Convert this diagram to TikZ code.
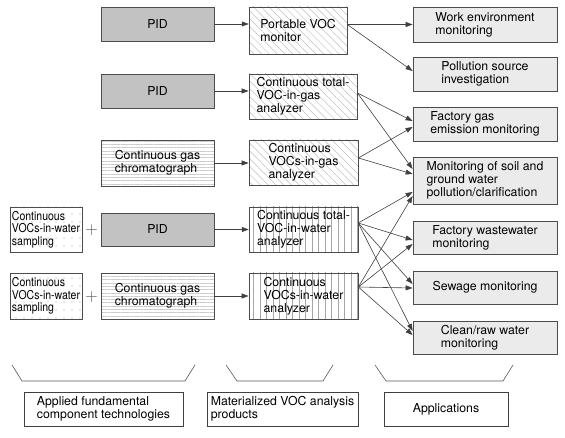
\documentclass[tikz,border=0pt]{standalone}
\usepackage{fontspec}
\setmainfont{TeX Gyre Heros}
\newfontfamily\condfont[FakeStretch=0.86]{TeX Gyre Heros}
\usetikzlibrary{arrows.meta,patterns.meta}
\begin{document}
\begin{tikzpicture}[x=1bp,y=-1bp,
  font=\fontsize{12.3bp}{13bp}\selectfont,
  box/.style={draw=black!70, line width=0.8bp, inner sep=0pt, align=left},
  pidbox/.style={box, fill=black!24},
  appbox/.style={box, fill=black!8},
  cgcbox/.style={box, pattern={Lines[angle=0,distance=3.3bp,line width=0.4bp]}, pattern color=black!20},
  gasbox/.style={box, pattern={Lines[angle=-45,distance=5.5bp,line width=0.5bp]}, pattern color=black!25},
  watbox/.style={box, pattern={Lines[angle=90,distance=6.5bp,line width=0.5bp]}, pattern color=black!35},
  sampbox/.style={box, pattern={Dots[distance=8bp,radius=0.6bp]}, pattern color=black!35, font=\condfont\fontsize{12.2bp}{12.5bp}\selectfont},
  labbox/.style={box, draw=black!75, fill=white},
  conn/.style={draw=black!75, line width=0.6bp, -{Triangle[length=7bp,width=5bp]}},
  bracket/.style={draw=black!65, line width=0.6bp},
  plussign/.style={inner sep=0pt, font=\fontsize{17bp}{17bp}\selectfont, text=black!70}
]
\useasboundingbox (0,0) rectangle (565,438);

% left column
\node[pidbox, minimum width=113bp, minimum height=34bp] (pid1) at (157.5,24) {PID};
\node[pidbox, minimum width=113bp, minimum height=34bp] (pid2) at (157.5,91) {PID};
\node[cgcbox, minimum width=113bp, minimum height=46bp] (cgc1) at (157.5,163) {Continuous gas\\chromatograph};
\node[sampbox, minimum width=72bp, minimum height=45bp] (samp1) at (46,229.5) {Continuous\\VOCs-in-water\\sampling};
\node[pidbox, minimum width=113bp, minimum height=33bp] (pid3) at (157.5,229.5) {PID};
\node[sampbox, minimum width=72bp, minimum height=46bp] (samp2) at (46,296) {Continuous\\VOCs-in-water\\sampling};
\node[cgcbox, minimum width=113bp, minimum height=46bp] (cgc2) at (157.5,296) {Continuous gas\\chromatograph};
\node[plussign] (plus1) at (91.5,230) {$+$};
\node[plussign] (plus2) at (91.5,297) {$+$};

% middle column
\node[gasbox, minimum width=98bp, minimum height=47bp] (port) at (298,30.5) {Portable VOC\\monitor};
\node[gasbox, minimum width=108bp, minimum height=45bp] (tgas) at (303,96.5) {Continuous total-\\VOC-in-gas\\analyzer};
\node[gasbox, minimum width=109bp, minimum height=45bp] (vgas) at (303.5,162.5) {Continuous\\VOCs-in-gas\\analyzer};
\node[watbox, minimum width=109bp, minimum height=45bp] (twat) at (303.5,229.5) {Continuous total-\\VOC-in-water\\analyzer};
\node[watbox, minimum width=109bp, minimum height=46bp] (vwat) at (303.5,296) {Continuous\\VOCs-in-water\\analyzer};

% right column
\node[appbox, minimum width=144bp, minimum height=35bp] (work) at (485,24.5) {Work environment\\monitoring};
\node[appbox, minimum width=144bp, minimum height=34bp] (poll) at (485,74) {Pollution source\\investigation};
\node[appbox, minimum width=144bp, minimum height=34bp] (fgas) at (485,124) {Factory gas\\emission monitoring};
\node[appbox, minimum width=144bp, minimum height=47bp] (soil) at (485,180.5) {Monitoring of soil and\\ground water\\pollution/clarification};
\node[appbox, minimum width=144bp, minimum height=33bp] (waste) at (485,237.5) {Factory wastewater\\monitoring};
\node[appbox, minimum width=144bp, minimum height=33bp] (sew) at (485,287.5) {Sewage monitoring};
\node[appbox, minimum width=144bp, minimum height=33bp] (clean) at (485,337.5) {Clean/raw water\\monitoring};

% bottom labels
\node[labbox, minimum width=159bp, minimum height=34bp] (lab1) at (103.5,409) {Applied fundamental\\component technologies};
\node[labbox, minimum width=151bp, minimum height=34bp] (lab2) at (282.5,409) {Materialized VOC analysis\\products};
\node[labbox, minimum width=124bp, minimum height=34bp] (lab3) at (446,409) {Applications};

% brackets
\draw[bracket] (12,365) -- (22,381) -- (185,381) -- (195,365);
\draw[bracket] (226,365) -- (237,381) -- (323,381) -- (333,365);
\draw[bracket] (375,365) -- (386,381) -- (503,381) -- (513,365);

% left to middle
\draw[conn] (pid1.east) -- (pid1.east -| port.west);
\draw[conn] (pid2.east) -- (pid2.east -| tgas.west);
\draw[conn] (cgc1.east) -- (cgc1.east -| vgas.west);
\draw[conn] (pid3.east) -- (pid3.east -| twat.west);
\draw[conn] (cgc2.east) -- (cgc2.east -| vwat.west);

% middle to right
\draw[conn] ([yshift=6bp]port.east) -- (work.west);
\draw[conn] ([yshift=6bp]port.east) -- ([yshift=3bp]poll.west);
\draw[conn] ([yshift=3.5bp]tgas.east) -- ([yshift=3bp]fgas.west);
\draw[conn] ([yshift=3.5bp]tgas.east) -- ([yshift=11.5bp]soil.west);
\draw[conn] ([yshift=4.5bp]vgas.east) -- ([yshift=-3bp]fgas.west);
\draw[conn] ([yshift=4.5bp]vgas.east) -- ([yshift=6.5bp]soil.west);
\draw[conn] ([yshift=6.5bp]twat.east) -- ([yshift=-11.5bp]soil.west);
\draw[conn] ([yshift=6.5bp]twat.east) -- ([yshift=-2.5bp]waste.west);
\draw[conn] ([yshift=6.5bp]twat.east) -- ([yshift=3.5bp]sew.west);
\draw[conn] ([yshift=6.5bp]twat.east) -- ([yshift=6.5bp]clean.west);
\draw[conn] ([yshift=9bp]vwat.east) -- ([yshift=-15.5bp]soil.west);
\draw[conn] ([yshift=9bp]vwat.east) -- ([yshift=-6.5bp]waste.west);
\draw[conn] ([yshift=9bp]vwat.east) -- ([yshift=-0.5bp]sew.west);
\draw[conn] ([yshift=9bp]vwat.east) -- ([yshift=2.5bp]clean.west);
\end{tikzpicture}
\end{document}
